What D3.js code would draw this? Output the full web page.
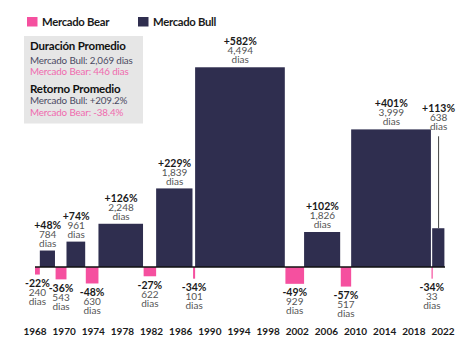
<!DOCTYPE html>
<html>
<head>
<meta charset="utf-8">
<script src="https://cdn.jsdelivr.net/npm/d3@7"></script>
<style>
  html, body { margin: 0; padding: 0; background: #fff; }
  svg { display: block; font-family: Lato, "Open Sans", sans-serif; }
</style>
</head>
<body>
<svg id="chart" width="474" height="346"></svg>
<script>
// ---- Data ----
const bearReturns = [-22, -36, -48, -27, -34, -49, -57, -34];
const bearDays    = [240, 543, 630, 622, 101, 929, 517, 33];
const bullReturns = [48, 74, 126, 229, 582, 102, 401, 113];
const bullDays    = [784, 961, 2248, 1839, 4494, 1826, 3999, 638];
const yearLabels  = ["1968","1970","1974","1978","1982","1986","1990","1994","1998","2002","2006","2010","2014","2018","2022"];
const legendLabels = ["Mercado Bear", "Mercado Bull"];
const infoLines = [
  {text: "Duración Promedio", kind: "head"},
  {text: "Mercado Bull: 2,069 dias", kind: "bull"},
  {text: "Mercado Bear: 446 dias", kind: "bear"},
  {text: "Retorno Promedio", kind: "head"},
  {text: "Mercado Bull: +209.2%", kind: "bull"},
  {text: "Mercado Bear: -38.4%", kind: "bear"}
];

const PINK = "#f5509f", NAVY = "#2f2e4f";

// Build alternating periods: bear, bull, bear, bull...
const periods = [];
bearReturns.forEach((r, i) => {
  periods.push({type: "bear", ret: r, days: bearDays[i]});
  periods.push({type: "bull", ret: bullReturns[i], days: bullDays[i], idx: i});
});
let acc = 0;
periods.forEach(p => { p.start = acc; acc += p.days; p.end = acc; });

const svg = d3.select("#chart");
const x = d3.scaleLinear().domain([0, acc]).range([35, 445]);
const y = d3.scaleLinear().domain([-60, 600]).range([287.6, 61.1]);
const xl = d3.scalePoint().domain(yearLabels).range([35, 443]);

// Bars
svg.append("g").selectAll("rect").data(periods).join("rect")
  .attr("x", d => x(d.start))
  .attr("width", d => Math.max(1.2, x(d.end) - x(d.start) - (d.type === "bull" ? 0.6 : 0)))
  .attr("y", d => d.ret > 0 ? y(d.ret) : y(0))
  .attr("height", d => Math.abs(y(d.ret) - y(0)))
  .attr("fill", d => d.type === "bull" ? NAVY : PINK);

// Baseline
svg.append("line").attr("x1", x(0)).attr("x2", x(acc)).attr("y1", y(0)).attr("y2", y(0))
  .attr("stroke", "#111").attr("stroke-width", 1.4);

// Labels
const fmt = d3.format(",");
const lastBull = bullReturns.length - 1;
periods.forEach(p => {
  const cx = (x(p.start) + x(p.end)) / 2;
  let b1, b2, b3;
  if (p.type === "bull") {
    let base = y(p.ret) - 3.9;
    if (p.idx === lastBull) {
      base = y(bullReturns[lastBull - 1]) - 3.9 + 4.3;
      svg.append("line").attr("x1", cx).attr("x2", cx)
        .attr("y1", base + 6.5).attr("y2", y(p.ret))
        .attr("stroke", "#444").attr("stroke-width", 1);
    }
    b1 = base - 18; b2 = base - 9; b3 = base;
  } else {
    const base = y(p.ret) + 12.3;
    b1 = base; b2 = base + 9; b3 = base + 18;
  }
  const g = svg.append("g").attr("text-anchor", "middle");
  g.append("text").attr("x", cx).attr("y", b1)
    .attr("font-size", 10.5).attr("font-weight", 700).attr("fill", "#1a1a1a")
    .text((p.ret > 0 ? "+" : "") + p.ret + "%");
  g.append("text").attr("x", cx).attr("y", b2)
    .attr("font-size", 10).attr("fill", "#555").text(fmt(p.days));
  g.append("text").attr("x", cx).attr("y", b3)
    .attr("font-size", 10).attr("fill", "#555").text("dias");
});

// X axis labels
svg.append("g").selectAll("text").data(yearLabels).join("text")
  .attr("x", d => xl(d)).attr("y", 334.5)
  .attr("text-anchor", "middle").attr("font-size", 10).attr("font-weight", 700)
  .attr("fill", "#1a1a1a").text(d => d);

// Legend
const legX = [27, 138];
const legC = [PINK, NAVY];
legendLabels.forEach((t, i) => {
  svg.append("rect").attr("x", legX[i]).attr("y", 17).attr("width", 10.5).attr("height", 9.5).attr("fill", legC[i]);
  svg.append("text").attr("x", legX[i] + 15).attr("y", 26.3)
    .attr("font-size", 11.3).attr("font-weight", 700).attr("fill", "#1a1a1a")
    .attr("letter-spacing", -0.3).text(t);
});

// Info box
svg.append("rect").attr("x", 24).attr("y", 36).attr("width", 119).attr("height", 87.5).attr("fill", "#e6e6e6");
const infoY = [50.2, 63.6, 75.4, 93.4, 104.4, 116.4];
infoLines.forEach((l, i) => {
  svg.append("text").attr("x", 30).attr("y", infoY[i])
    .attr("font-size", l.kind === "head" ? 11.5 : 9.8)
    .attr("font-weight", l.kind === "head" ? 700 : 400)
    .attr("letter-spacing", l.kind === "head" ? -0.2 : -0.15)
    .attr("fill", l.kind === "head" ? "#111" : (l.kind === "bull" ? "#4a4a62" : "#f06aae"))
    .text(l.text);
});
</script>
</body>
</html>
